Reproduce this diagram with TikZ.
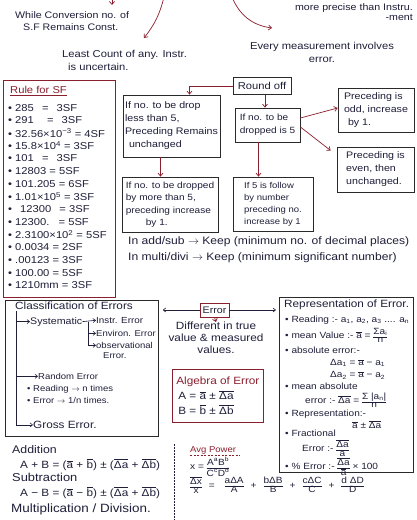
\documentclass[tikz,border=0pt]{standalone}
\usepackage{amsmath}
\usepackage{fontspec}
\setmainfont{Liberation Sans}[FakeStretch=1.12]
\usetikzlibrary{positioning,arrows.meta,calc}
\definecolor{ink}{HTML}{1F1F3A}
\definecolor{noteRed}{HTML}{8A1F2E}
\definecolor{boxLine}{HTML}{2A2A2A}
% bar over text, compact fraction in text font
\newcommand{\ovl}[1]{\ensuremath{\overline{\mbox{#1}}}}
\newcommand{\notefrac}[2]{\ensuremath{\vcenter{\hbox{\renewcommand{\arraystretch}{0.85}%
  \begin{tabular}{@{}c@{}}#1\\\hline#2\end{tabular}}}}}

\begin{document}
\begin{tikzpicture}[x=1pt,y=-1pt,
          font=\fontsize{9}{12}\selectfont, text=ink,
          txt/.style={anchor=north west,inner sep=0pt,align=left},
          ctxt/.style={anchor=north,inner sep=0pt,align=center},
          sfrow/.style={anchor=west,inner sep=0pt,font=\fontsize{10}{11}\selectfont},
          rbox/.style={draw=boxLine,line width=0.8pt,inner sep=2pt,align=left,
                       font=\fontsize{9.5}{13}\selectfont},
          mbox/.style={draw=noteRed,line width=0.8pt,inner sep=1.5pt},
          reptxt/.style={txt,font=\fontsize{9}{9}\selectfont},
          arr/.style={-{Straight Barb[length=3pt,width=5pt]},noteRed,line width=0.7pt},
          karr/.style={-{Straight Barb[length=2.5pt,width=4pt]},ink,line width=0.6pt}]
        \useasboundingbox[fill=white] (0,0) rectangle (416,520);
        % notes on top
        \node[txt,font=\fontsize{9.5}{12}\selectfont] (conv) at (15,11) {While Conversion no. of\\\hspace{8pt}S.F Remains Const.};
        \node[txt,font=\fontsize{10}{13}\selectfont] (lc) at (62,50) {Least Count of any. Instr.\\\hspace{6pt}is uncertain.};
        \node[ctxt,font=\fontsize{10}{13}\selectfont] (every) at (322,42) {Every measurement involves\\error.};
        \node[anchor=north east,inner sep=0pt,align=right,font=\fontsize{9.5}{10}\selectfont] (prec) at (413,3) {more precise than Instru.\\-ment};
        \coordinate (topA) at (112,-3);
        \coordinate (convin) at (112,5);
        \coordinate (topB) at (164,-3);
        \coordinate (lcin) at (144,38);
        \coordinate (topC) at (232,-3);
        \coordinate (everyin) at (272,28);
        \draw[arr] (topA) -- (convin);
        \draw[arr] (topB) to[bend left=12] (lcin);
        \draw[arr] (topC) to[bend right=30] (everyin);
        % rules for significant figures
        \node[draw=noteRed,line width=0.9pt,anchor=north west,inner sep=0pt,
              minimum width=112pt,minimum height=217pt] (rulebox) at (3,80) {};
        \node[txt,text=noteRed,font=\fontsize{10}{12}\selectfont] (ruletitle) at (10,86) {\underline{Rule for SF}};
        \foreach \t [count=\i] in {{285 \enspace= \enspace3SF},{291 \enspace\enspace= \enspace3SF},
            {32.56×10\textsuperscript{−3} = 4SF},{15.8×10\textsuperscript{4} = 3SF},{101 \enspace= \enspace3SF},
            {12803 = 5SF},{101.205 = 6SF},{1.01×10\textsuperscript{5} = 3SF},{\enspace12300 \enspace= 3SF},
            {12300. \enspace= 5SF},{2.3100×10\textsuperscript{2} = 5SF},{0.0034 = 2SF},{.00123 = 3SF},
            {100.00 = 5SF},{1210mm = 3SF}}
          \node[sfrow] (sf\i) at (8,{95+12.7*\i}) {\textbullet\ \t};
        % round off
        \node[draw=boxLine,line width=0.8pt,inner sep=1pt,minimum width=58pt,minimum height=17pt,
              font=\fontsize{10}{12}\selectfont] (round) at (262,86) {Round off};
        \node[rbox,minimum width=97pt,minimum height=62pt] (lt5) at (171.5,126) {If no. to be drop\\less than 5,\\Preceding Remains\\\hspace{4pt}unchanged};
        \node[rbox,minimum width=65pt,minimum height=34pt,font=\fontsize{9}{13}\selectfont] (eq5) at (267.5,125) {If no. to be\\dropped is 5};
        \node[rbox,minimum width=96pt,minimum height=55pt,font=\fontsize{9}{12.5}\selectfont] (gt5) at (170,204.5) {If no. to be dropped\\by more than 5,\\preceding increase\\\hspace{20pt}by 1.};
        \node[rbox,minimum width=80pt,minimum height=54pt,font=\fontsize{8.5}{12}\selectfont] (fol5) at (273,204) {If 5 is follow\\by number\\preceding no.\\increase by 1};
        \node[rbox,minimum width=76pt,minimum height=44pt] (odd) at (376,110) {Preceding is\\odd, increase\\\hspace{4pt}by 1.};
        \node[rbox,minimum width=77pt,minimum height=45pt] (even) at (375.5,169.5) {Preceding is\\even, then\\unchanged.};
        \draw[arr] (round.west) -| ([xshift=18pt]lt5.north);
        \draw[arr] ([xshift=3pt]round.south) -- ([xshift=3pt]round.south |- eq5.north);
        \draw[arr] ([xshift=-11pt]lt5.south) -- ([xshift=-11pt]lt5.south |- gt5.north);
        \draw[arr] ([xshift=-9pt]eq5.south) -- ([xshift=-9pt]eq5.south |- fol5.north);
        \draw[arr] ([yshift=7pt]eq5.east) -- ([yshift=2pt]odd.west);
        \draw[arr] ([yshift=-2pt]eq5.east) -- ([xshift=-6pt,yshift=19pt]even.west);
        \node[txt,font=\fontsize{10.8}{12}\selectfont] (addrule) at (128,236) {In add/sub $\rightarrow$ Keep (minimum no. of decimal places)};
        \node[txt,font=\fontsize{10.8}{12}\selectfont] (mulrule) at (128,252) {In multi/divi $\rightarrow$ Keep (minimum significant number)};
        % classification of errors
        \node[draw=boxLine,line width=0.8pt,anchor=north west,inner sep=0pt,
              minimum width=153pt,minimum height=136pt] (classbox) at (5,300) {};
        \node[txt,font=\fontsize{10.5}{12}\selectfont] (classtitle) at (15,302) {Classification of Errors};
        \node[txt,font=\fontsize{9.5}{12}\selectfont] (syst) at (30,317) {Systematic};
        \node[txt,font=\fontsize{8.8}{9}\selectfont] (instr) at (96,317) {Instr. Error};
        \node[txt,font=\fontsize{8.5}{9}\selectfont] (environ) at (96,330) {Environ. Error};
        \node[txt,font=\fontsize{8.5}{9}\selectfont] (observ) at (96,342) {observational};
        \node[txt,font=\fontsize{8.5}{9}\selectfont] (observerr) at (103,352) {Error.};
        \node[txt,font=\fontsize{8.5}{12}\selectfont] (random) at (38,373) {Random Error};
        \node[txt,font=\fontsize{8.5}{12}\selectfont] (reading) at (27,385) {\textbullet\ Reading $\rightarrow$ n times};
        \node[txt,font=\fontsize{8.5}{12}\selectfont] (errn) at (27,397) {\textbullet\ Error $\rightarrow$ 1/n times.};
        \node[txt,font=\fontsize{10.5}{12}\selectfont] (gross) at (33,421) {Gross Error.};
        \coordinate (treetop) at (16,311);
        \coordinate (sysfork) at ($(syst.east)+(6,0)$);
        \draw[karr] (treetop) |- (syst.west);
        \draw[karr] (treetop) |- (random.west);
        \draw[karr] (treetop) |- (gross.west);
        \draw[karr] (syst.east) -- (instr.west);
        \draw[karr] (sysfork) |- (environ.west);
        \draw[karr] (sysfork) |- (observ.west);
        % error
        \node[mbox,minimum width=29pt,minimum height=14pt,font=\fontsize{9.5}{12}\selectfont] (err) at (214.5,310) {Error};
        \node[ctxt,font=\fontsize{10.5}{12}\selectfont] (diff) at (216,322) {Different in true\\value \& measured\\values.};
        \node[draw=noteRed,line width=0.8pt,anchor=north west,inner sep=3pt,align=left,
              minimum width=91pt,minimum height=53pt,font=\fontsize{10.5}{15}\selectfont] (algbox) at (172,369)
              {\textcolor{noteRed}{Algebra of Error}\\ \hspace{2pt}A = \ovl{a} ± \ovl{Δa}\\ \hspace{2pt}B = \ovl{b} ± \ovl{Δb}};
        \node[draw=boxLine,line width=0.8pt,anchor=north west,inner sep=0pt,
              minimum width=134pt,minimum height=175pt] (repbox) at (279,297) {};
        \draw[karr] (err.west) -- ([xshift=4pt]err.west -| classbox.east);
        \draw[karr] (err.east) -- ([xshift=-3pt]err.east -| repbox.west);
        \draw[arr] (err.south) -- (diff.north);
        % representation of error
        \node[txt,font=\fontsize{10.5}{12}\selectfont] (reptitle) at (284,300) {Representation of Error.};
        \node[reptxt] (repread) at (285,316) {\textbullet\ Reading :- a\textsubscript{1}, a\textsubscript{2}, a\textsubscript{3} .... a\textsubscript{n}};
        \node[reptxt] (repmean) at (285,328) {\textbullet\ mean Value :- \ovl{a} = \notefrac{Σa\textsubscript{i}}{n}};
        \node[reptxt] (repabs) at (285,347) {\textbullet\ absolute error:-};
        \node[reptxt] (repda1) at (330,359) {Δa\textsubscript{1} = \ovl{a} − a\textsubscript{1}};
        \node[reptxt] (repda2) at (330,371) {Δa\textsubscript{2} = \ovl{a} − a\textsubscript{2}};
        \node[reptxt] (repmabs) at (285,383) {\textbullet\ mean absolute};
        \node[reptxt] (repmerr) at (305,393) {error :- \ovl{Δa} = \notefrac{Σ |a\textsubscript{n}|}{n}};
        \node[reptxt] (reprep) at (285,410) {\textbullet\ Representation:-};
        \node[reptxt] (reppm) at (352,420.5) {\ovl{a} ± \ovl{Δa}};
        \node[reptxt] (repfrac) at (285,430) {\textbullet\ Fractional};
        \node[reptxt] (repferr) at (302,439) {Error :- \notefrac{\ovl{Δa}}{\ovl{a}}};
        \node[reptxt] (repperc) at (285,457.5) {\textbullet\ \% Error :- \notefrac{\ovl{Δa}}{\ovl{a}} × 100};
        % combination of errors
        \node[txt,font=\fontsize{11}{12}\selectfont] (addn) at (12,445) {Addition};
        \node[txt,font=\fontsize{10.5}{12}\selectfont] (addf) at (20,458) {A + B = (\ovl{a} + \ovl{b}) ± (\ovl{Δa} + \ovl{Δb})};
        \node[txt,font=\fontsize{11.5}{12}\selectfont] (subn) at (12,473) {Subtraction};
        \node[txt,font=\fontsize{10.5}{12}\selectfont] (subf) at (20,486) {A − B = (\ovl{a} − \ovl{b}) ± (\ovl{Δa} + \ovl{Δb})};
        \node[txt,font=\fontsize{12}{12}\selectfont] (muln) at (11,504) {Multiplication / Division.};
        \coordinate (dashtop) at (174,444);
        \coordinate (dashbot) at (174,522);
        \draw[ink,line width=0.6pt,dash pattern=on 1.5pt off 1.5pt] (dashtop) -- (dashbot);
        \node[txt,text=noteRed,font=\fontsize{8.5}{12}\selectfont] (avgp) at (190,446) {Avg Power};
        \draw[noteRed,line width=0.5pt,dash pattern=on 2pt off 1.5pt] ([yshift=-1.5pt]avgp.south west) -- ([yshift=-1.5pt,xshift=4pt]avgp.south east);
        \node[txt,font=\fontsize{9}{8.5}\selectfont] (avgx) at (190,457) {x = \notefrac{A\textsuperscript{a}B\textsuperscript{b}}{C\textsuperscript{c}D\textsuperscript{d}}};
        \node[txt,font=\fontsize{9}{9}\selectfont] (avgdx) at (190,476) {\notefrac{\ovl{Δx}}{\ovl{x}}\hspace{7pt}=\hspace{7pt}
            \notefrac{aΔA}{A}\hspace{7pt}+\hspace{7pt}\notefrac{bΔB}{B}\hspace{7pt}+\hspace{7pt}\notefrac{cΔC}{C}\hspace{7pt}+\hspace{7pt}\notefrac{d ΔD}{D}};
      \end{tikzpicture}
\end{document}
